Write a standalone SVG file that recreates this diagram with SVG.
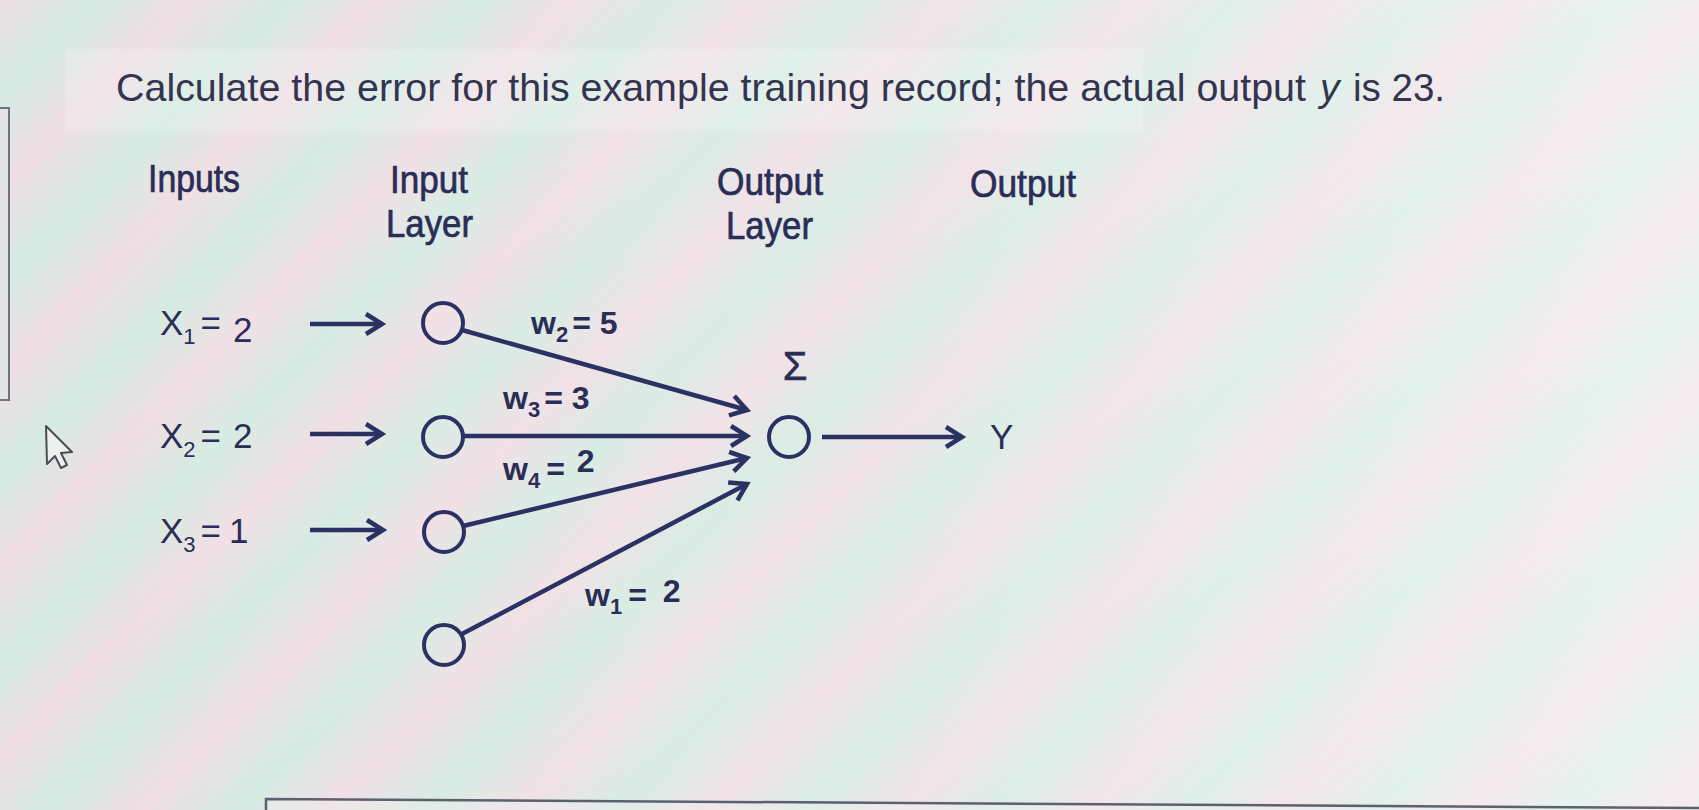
<svg xmlns="http://www.w3.org/2000/svg" width="1699" height="810" viewBox="0 0 1699 810">
<style>
.t{font-family:"Liberation Sans",Arial,sans-serif;fill:#2a2d56}
.ti{font-size:39px;fill:#33344f}
.hd{font-size:38px;stroke:#2a2d56;stroke-width:0.7}
.lbl{font-size:35px}
.w{font-size:32px;font-weight:bold}
.sub{font-size:22px}
.node{fill:none;stroke:#2b3263;stroke-width:4}
.edge{fill:none;stroke:#2b3263;stroke-width:4.5;marker-end:url(#chev)}
</style>
<defs>
<linearGradient id="bg" gradientUnits="userSpaceOnUse" x1="0" y1="0" x2="95" y2="95" spreadMethod="repeat">
<stop offset="0" stop-color="#f0dce3"/>
<stop offset="0.5" stop-color="#d1eae0"/>
<stop offset="1" stop-color="#f0dce3"/>
</linearGradient>
<linearGradient id="wash" x1="0" y1="0" x2="1" y2="0">
<stop offset="0" stop-color="#ffffff" stop-opacity="0.05"/>
<stop offset="0.55" stop-color="#ffffff" stop-opacity="0.2"/>
<stop offset="1" stop-color="#ffffff" stop-opacity="0.45"/>
</linearGradient>
<marker id="chev" markerUnits="userSpaceOnUse" markerWidth="40" markerHeight="40" viewBox="-20 -20 40 40" refX="0" refY="0" orient="auto">
<path d="M -16 -10 L 0 0 L -16 10" fill="none" stroke="#2b3263" stroke-width="4.5" stroke-linejoin="miter"/>
</marker>
</defs>
<rect x="0" y="0" width="1699" height="810" fill="url(#bg)"/>
<rect x="0" y="0" width="1699" height="810" fill="url(#wash)"/>
<rect x="65" y="49" width="1078" height="82" fill="#ffffff" fill-opacity="0.18"/>
<!-- left panel edge -->
<rect x="-3" y="108" width="12" height="292" fill="#e2e4e8" stroke="#6e737c" stroke-width="2"/>
<!-- cursor -->
<path d="M 46 426 L 47 464 L 55 456 L 61 468 L 67 465 L 61 453 L 72 452 Z" fill="#f3f3f3" fill-opacity="0.7" stroke="#4a4d55" stroke-width="2" stroke-linejoin="round"/>
<!-- bottom box -->
<path d="M 266 812 L 266 799 L 1699 808" fill="#eef0ee" fill-opacity="0.4" stroke="#5c6170" stroke-width="2.5"/>

<g id="title">
<text class="t ti" x="116" y="101" textLength="1190" lengthAdjust="spacingAndGlyphs">Calculate the error for this example training record; the actual output</text>
<text class="t ti" x="1320" y="101" font-style="italic">y</text>
<text class="t ti" x="1353" y="101" textLength="92" lengthAdjust="spacingAndGlyphs">is 23.</text>
</g>

<g id="headers">
<text class="t hd" x="148" y="192" textLength="92" lengthAdjust="spacingAndGlyphs">Inputs</text>
<text class="t hd" x="390" y="193" textLength="78" lengthAdjust="spacingAndGlyphs">Input</text>
<text class="t hd" x="386" y="237" textLength="87" lengthAdjust="spacingAndGlyphs">Layer</text>
<text class="t hd" x="717" y="195" textLength="106" lengthAdjust="spacingAndGlyphs">Output</text>
<text class="t hd" x="726" y="239" textLength="87" lengthAdjust="spacingAndGlyphs">Layer</text>
<text class="t hd" x="970" y="197" textLength="106" lengthAdjust="spacingAndGlyphs">Output</text>
</g>

<g id="input-x1"><text class="t lbl" x="160" y="335">X<tspan class="sub" dy="9">1</tspan><tspan dy="-9" dx="5">=</tspan><tspan dx="12" dy="7">2</tspan></text></g>
<g id="input-x2"><text class="t lbl" x="160" y="448">X<tspan class="sub" dy="9">2</tspan><tspan dy="-9" dx="5">=</tspan><tspan dx="12">2</tspan></text></g>
<g id="input-x3"><text class="t lbl" x="160" y="543">X<tspan class="sub" dy="9">3</tspan><tspan dy="-9" dx="5">=</tspan><tspan dx="8">1</tspan></text></g>

<g id="node-in1"><circle class="node" cx="443" cy="323" r="20"/></g>
<g id="node-in2"><circle class="node" cx="443" cy="437" r="20"/></g>
<g id="node-in3"><circle class="node" cx="444" cy="532" r="20"/></g>
<g id="node-in4"><circle class="node" cx="444" cy="645" r="20"/></g>
<g id="node-out"><circle class="node" cx="789" cy="437" r="20"/>
<text class="t" x="795" y="380" font-size="40" text-anchor="middle" stroke="#2a2d56" stroke-width="0.6">Σ</text></g>
<g id="output-y"><text class="t lbl" x="990" y="449">Y</text></g>

<g id="connectors">
<line class="edge" x1="310" y1="324" x2="382" y2="324"/>
<line class="edge" x1="310" y1="434" x2="382" y2="434"/>
<line class="edge" x1="310" y1="530" x2="383" y2="530"/>
<line class="edge" x1="462" y1="330" x2="747" y2="410"/>
<line class="edge" x1="463" y1="436" x2="747" y2="436"/>
<line class="edge" x1="463" y1="526" x2="747" y2="458"/>
<line class="edge" x1="460" y1="635" x2="747" y2="484"/>
<line class="edge" x1="822" y1="437" x2="962" y2="437"/>
</g>

<g id="weights">
<text class="t w" x="531" y="334">w<tspan class="sub" dy="8">2</tspan><tspan dy="-8" dx="4">= 5</tspan></text>
<text class="t w" x="503" y="409">w<tspan class="sub" dy="8">3</tspan><tspan dy="-8" dx="4">= 3</tspan></text>
<text class="t w" x="503" y="480">w<tspan class="sub" dy="8">4</tspan><tspan dy="-8" dx="6">=</tspan><tspan dx="12" dy="-8">2</tspan></text>
<text class="t w" x="585" y="606">w<tspan class="sub" dy="8">1</tspan><tspan dy="-8" dx="6">=</tspan><tspan dx="16" dy="-4">2</tspan></text>
</g>
</svg>
